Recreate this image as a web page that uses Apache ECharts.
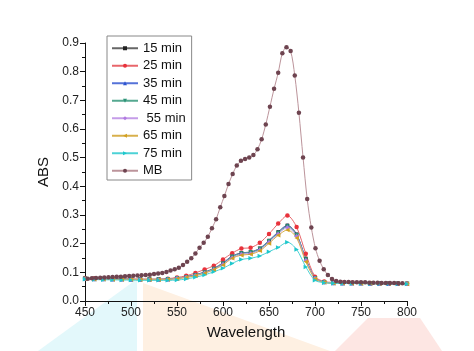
<!DOCTYPE html>
<html>
<head>
<meta charset="utf-8">
<script src="https://cdn.jsdelivr.net/npm/echarts@6/dist/echarts.min.js"></script>
<style>
  html, body { margin: 0; padding: 0; background: #fff; }
  #chart { width: 474px; height: 351px; }
</style>
</head>
<body>
<div id="chart"></div>
<script>
// wavelengths of the time samples (nm)
var waveT = [450, 460, 470, 480, 490, 500, 510, 520, 530, 540, 550, 560, 570, 580, 590, 600, 610, 620,
             630, 640, 650, 660, 670, 680, 690, 700, 710, 720, 730, 740, 750, 760, 770, 780, 790, 800];
// wavelengths of the MB curve (nm)
var waveMB = [453, 457.5, 462, 466.5, 471, 475.5, 480, 484.5, 489, 493.5, 498, 502.5, 507, 511.5, 516, 520.5,
              525, 529.5, 534, 538.5, 543, 547.5, 552, 556.5, 561, 565.5, 570, 574.5, 579, 583.5, 588, 592.5,
              597, 601.5, 606, 610.5, 615, 619.5, 624, 628.5, 633, 637.5, 642, 646.5, 651, 655.5, 660, 664.5,
              669, 673.5, 678, 682.5, 687, 691.5, 696, 700.5, 705, 709.5, 714, 718.5, 723, 727.5, 732, 736.5,
              741, 745.5, 750, 754.5, 759, 763.5, 768, 772.5, 777, 781.5, 786, 790.5, 795];

var min15 = [0.079, 0.078, 0.078, 0.077, 0.077, 0.076, 0.076, 0.076, 0.076, 0.077, 0.080, 0.085, 0.092, 0.101,
             0.114, 0.133, 0.157, 0.168, 0.171, 0.184, 0.211, 0.241, 0.264, 0.233, 0.148, 0.081, 0.066, 0.064,
             0.063, 0.063, 0.062, 0.062, 0.061, 0.061, 0.061, 0.060];
var min25 = [0.080, 0.079, 0.078, 0.078, 0.077, 0.077, 0.076, 0.076, 0.076, 0.078, 0.082, 0.088, 0.098, 0.110,
             0.123, 0.145, 0.167, 0.183, 0.186, 0.203, 0.234, 0.270, 0.298, 0.258, 0.165, 0.085, 0.068, 0.065,
             0.064, 0.064, 0.063, 0.063, 0.062, 0.062, 0.061, 0.061];
var min35 = [0.078, 0.077, 0.077, 0.076, 0.076, 0.075, 0.075, 0.075, 0.075, 0.076, 0.079, 0.084, 0.091, 0.100,
             0.113, 0.132, 0.156, 0.167, 0.170, 0.183, 0.210, 0.240, 0.263, 0.232, 0.146, 0.080, 0.066, 0.063,
             0.062, 0.062, 0.062, 0.061, 0.061, 0.060, 0.060, 0.060];
var min45 = [0.078, 0.077, 0.077, 0.076, 0.076, 0.075, 0.075, 0.075, 0.075, 0.076, 0.079, 0.083, 0.090, 0.099,
             0.112, 0.130, 0.154, 0.166, 0.169, 0.181, 0.208, 0.237, 0.260, 0.229, 0.145, 0.079, 0.065, 0.063,
             0.062, 0.062, 0.061, 0.061, 0.061, 0.060, 0.060, 0.060];
var min55 = [0.077, 0.077, 0.076, 0.076, 0.075, 0.075, 0.075, 0.074, 0.074, 0.075, 0.079, 0.083, 0.089, 0.098,
             0.110, 0.128, 0.151, 0.163, 0.166, 0.178, 0.205, 0.234, 0.256, 0.226, 0.142, 0.079, 0.065, 0.063,
             0.062, 0.062, 0.061, 0.061, 0.060, 0.060, 0.060, 0.059];
var min65 = [0.077, 0.076, 0.076, 0.075, 0.075, 0.075, 0.074, 0.074, 0.074, 0.075, 0.078, 0.082, 0.088, 0.097,
             0.109, 0.126, 0.149, 0.160, 0.163, 0.175, 0.201, 0.229, 0.248, 0.220, 0.137, 0.078, 0.065, 0.062,
             0.062, 0.061, 0.061, 0.061, 0.060, 0.060, 0.060, 0.059];
var min75 = [0.076, 0.075, 0.074, 0.074, 0.073, 0.073, 0.072, 0.072, 0.072, 0.072, 0.073, 0.077, 0.083, 0.091,
             0.102, 0.114, 0.131, 0.145, 0.149, 0.157, 0.172, 0.187, 0.205, 0.180, 0.119, 0.072, 0.064, 0.062,
             0.061, 0.061, 0.061, 0.060, 0.060, 0.060, 0.059, 0.059];
var mb = [0.078, 0.079, 0.080, 0.081, 0.082, 0.083, 0.084, 0.085, 0.085, 0.086, 0.087, 0.088, 0.089, 0.090,
          0.091, 0.092, 0.094, 0.096, 0.098, 0.101, 0.106, 0.111, 0.116, 0.126, 0.137, 0.149, 0.166, 0.186,
          0.203, 0.224, 0.254, 0.285, 0.327, 0.366, 0.408, 0.443, 0.473, 0.489, 0.495, 0.501, 0.509, 0.529,
          0.564, 0.616, 0.678, 0.740, 0.796, 0.864, 0.885, 0.872, 0.787, 0.657, 0.501, 0.356, 0.256, 0.184,
          0.140, 0.111, 0.091, 0.077, 0.070, 0.067, 0.066, 0.066, 0.065, 0.065, 0.065, 0.065, 0.064, 0.064,
          0.064, 0.063, 0.063, 0.063, 0.063, 0.062, 0.062];

var names = ['15 min', '25 min', '35 min', '45 min', ' 55 min', '65 min', '75 min', 'MB'];

function pairs(xs, ys) {
  return xs.map(function (x, i) { return [x, ys[i]]; });
}

function mkSeries(name, xs, ys, color, lineColor, symbol, size, rotate) {
  return {
    name: name,
    type: 'line',
    data: pairs(xs, ys),
    smooth: 0.3,
    symbol: symbol,
    symbolSize: size,
    symbolRotate: rotate || 0,
    itemStyle: { color: color },
    lineStyle: { color: lineColor, width: 1 },
    emphasis: { disabled: true },
    animation: false
  };
}

var chart = echarts.init(document.getElementById('chart'));
var option = {
  backgroundColor: '#fff',
  textStyle: { fontFamily: 'Liberation Sans, Arial, sans-serif' },
  // faint watermark shapes behind the plot
  graphic: [
    { type: 'polygon', z: 0, shape: { points: [[137, 279], [137, 351], [38, 351]] },
      style: { fill: '#e3f8fb' } },
    { type: 'polygon', z: 0, shape: { points: [[143, 283], [330, 351], [143, 351]] },
      style: { fill: '#fef0e2' } },
    { type: 'polygon', z: 0, shape: { points: [[335, 351], [368, 318], [420, 318], [442, 351]] },
      style: { fill: '#fde6e3' } }
  ],
  grid: { left: 85, right: 67, top: 43, bottom: 50 },
  legend: {
    orient: 'vertical',
    left: 107,
    top: 36,
    padding: [5, 6, 2, 4],
    borderColor: '#888',
    borderWidth: 1,
    itemWidth: 26,
    itemHeight: 5,
    itemGap: 3,
    textStyle: { fontSize: 13, color: '#111', lineHeight: 14.5 },
    data: names
  },
  xAxis: {
    type: 'value',
    min: 450,
    max: 800,
    interval: 50,
    name: 'Wavelength',
    nameLocation: 'middle',
    nameGap: 24,
    nameTextStyle: { fontSize: 15, color: '#111' },
    axisLine: { lineStyle: { color: '#111', width: 1 } },
    axisTick: { length: 5, lineStyle: { color: '#111' } },
    minorTick: { show: true, splitNumber: 2, length: 3, lineStyle: { color: '#111' } },
    axisLabel: { fontSize: 12, color: '#222', margin: 6, showMinLabel: true, showMaxLabel: true },
    splitLine: { show: false }
  },
  yAxis: {
    type: 'value',
    min: 0,
    max: 0.9,
    interval: 0.1,
    name: 'ABS',
    nameLocation: 'middle',
    nameGap: 28,
    nameTextStyle: { fontSize: 15, color: '#111' },
    axisLine: { show: true, lineStyle: { color: '#111', width: 1 } },
    axisTick: { show: true, length: 5, lineStyle: { color: '#111' } },
    minorTick: { show: true, splitNumber: 2, length: 3, lineStyle: { color: '#111' } },
    axisLabel: { fontSize: 12, color: '#222', margin: 6, formatter: function (v) { return v.toFixed(1); } },
    splitLine: { show: false }
  },
  series: [
    mkSeries(names[0], waveT, min15, '#222', '#666', 'rect', 3.5),
    mkSeries(names[1], waveT, min25, '#e8323c', '#e8666b', 'circle', 4.5),
    mkSeries(names[2], waveT, min35, '#2f56d0', '#5572d8', 'triangle', 4.5),
    mkSeries(names[3], waveT, min45, '#2e9478', '#55a890', 'triangle', 4.5, 180),
    mkSeries(names[4], waveT, min55, '#b07ae0', '#c59ce8', 'diamond', 4.5),
    mkSeries(names[5], waveT, min65, '#d2a020', '#d8b04c', 'triangle', 4.5, 90),
    mkSeries(names[6], waveT, min75, '#1ec8cc', '#4cd2d6', 'triangle', 4.5, -90),
    mkSeries(names[7], waveMB, mb, '#6e4450', '#bc949b', 'circle', 4.5)
  ]
};
chart.setOption(option);
</script>
</body>
</html>
